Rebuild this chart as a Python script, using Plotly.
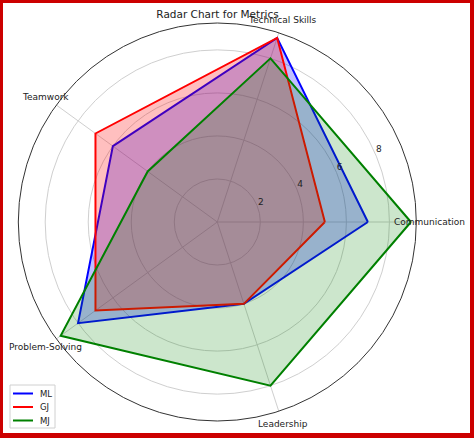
import math
import plotly.graph_objects as go

W, H = 474, 438

categories = ["Communication", "Technical Skills", "Teamwork", "Problem-Solving", "Leadership"]
angles = [0, 72, 144, 216, 288]
series_names = ["ML", "GJ", "MJ"]
ml_values = [7, 9, 6, 8, 4]
gj_values = [5, 9, 7, 7, 4]
mj_values = [9, 8, 4, 9, 8]
radial_ticks = [2, 4, 6, 8]
radial_max = 9.25
label_radius = 9.85

line_colors = ["blue", "red", "green"]
fill_colors = ["rgba(0,0,255,0.25)", "rgba(255,0,0,0.25)", "rgba(0,128,0,0.2)"]

fig = go.Figure()
for name, vals, lc, fc in zip(series_names, [ml_values, gj_values, mj_values], line_colors, fill_colors):
    fig.add_trace(go.Scatterpolar(
        r=vals + vals[:1], theta=angles + angles[:1], mode="lines", name=name,
        line=dict(color=lc, width=2), fill="toself", fillcolor=fc, showlegend=False,
    ))

# radial tick labels
fig.add_trace(go.Scatterpolar(
    r=[t + 0.22 for t in radial_ticks], theta=[24] * len(radial_ticks), mode="text",
    text=[str(t) for t in radial_ticks], textposition="middle center",
    textfont=dict(family="DejaVu Sans", size=9, color="#222"),
    showlegend=False, hoverinfo="skip",
))

cx, cy, R = 217.3, 222, 199
annotations = []
# category labels placed around the polar circle
for cat, ang in zip(categories, angles):
    rr = R * label_radius / radial_max
    px = cx + rr * math.cos(math.radians(ang))
    py = cy - rr * math.sin(math.radians(ang))
    annotations.append(dict(text=cat, x=px / W, y=1 - py / H, xref="paper", yref="paper",
                            xanchor="center", yanchor="middle", showarrow=False,
                            font=dict(family="DejaVu Sans", size=9, color="#222")))

# manual legend (compact, like the reference)
shapes = [
    dict(type="rect", xref="paper", yref="paper", x0=10 / W, x1=55 / W,
         y0=1 - 428 / H, y1=1 - 385 / H, fillcolor="white",
         line=dict(color="#d0d0d0", width=1)),
]
for i, (name, lc) in enumerate(zip(series_names, line_colors)):
    ly = 393.5 + i * 13.5
    shapes.append(dict(type="line", xref="paper", yref="paper", x0=13 / W, x1=33 / W,
                       y0=1 - ly / H, y1=1 - ly / H, line=dict(color=lc, width=2)))
    annotations.append(dict(text=name, x=38 / W, y=1 - ly / H, xref="paper", yref="paper",
                            xanchor="left", yanchor="middle", showarrow=False,
                            font=dict(family="DejaVu Sans", size=8.5, color="#222")))

# red frame
red = "#cc0000"
shapes += [
    dict(type="rect", xref="paper", yref="paper", x0=0, x1=3 / W, y0=0, y1=1,
         fillcolor=red, line=dict(width=0)),
    dict(type="rect", xref="paper", yref="paper", x0=1 - 4 / W, x1=1, y0=0, y1=1,
         fillcolor=red, line=dict(width=0)),
    dict(type="rect", xref="paper", yref="paper", x0=0, x1=1, y0=1 - 3 / H, y1=1,
         fillcolor=red, line=dict(width=0)),
    dict(type="rect", xref="paper", yref="paper", x0=0, x1=1, y0=0, y1=5 / H,
         fillcolor=red, line=dict(width=0)),
]

fig.update_layout(
    width=W, height=H,
    margin=dict(l=0, r=0, t=0, b=0),
    paper_bgcolor="white",
    showlegend=False,
    font=dict(family="DejaVu Sans", color="#222"),
    title=dict(text="Radar Chart for Metrics", x=217.5 / W, y=1 - 14.5 / H,
               xanchor="center", yanchor="middle",
               font=dict(family="DejaVu Sans", size=10.5, color="#222")),
    polar=dict(
        domain=dict(x=[(cx - R) / W, (cx + R) / W], y=[(H - cy - R) / H, (H - cy + R) / H]),
        bgcolor="white",
        radialaxis=dict(range=[0, radial_max], tickvals=radial_ticks, showticklabels=False,
                        showline=False, ticks="", gridcolor="#cfcfcf", gridwidth=1),
        angularaxis=dict(rotation=0, direction="counterclockwise", thetaunit="degrees",
                         tickvals=angles, showticklabels=False, ticks="",
                         showline=True, linecolor="#333", linewidth=1,
                         gridcolor="#cfcfcf", gridwidth=1),
    ),
    annotations=annotations,
    shapes=shapes,
)

fig.write_html("out.html", config={"responsive": False, "displayModeBar": False},
               post_script="document.body.style.margin='0';document.body.style.overflow='hidden';")
